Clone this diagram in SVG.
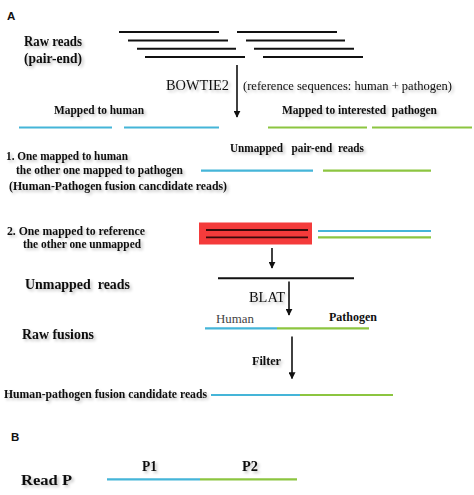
<svg xmlns="http://www.w3.org/2000/svg" width="474" height="495" viewBox="0 0 474 495">
<style>
.bg{fill:#fff}
.sans{font-family:"Liberation Sans",Arial,sans-serif;font-weight:bold;fill:#111}
.b{font-family:"Liberation Serif","Times New Roman",serif;font-weight:bold;fill:#111}
.r{font-family:"Liberation Serif","Times New Roman",serif;fill:#111}
.pre{white-space:pre}
.k{stroke:#111;stroke-width:2;fill:none}
.bl{stroke:#45b5d8;stroke-width:2.2;fill:none}
.gr{stroke:#8cc540;stroke-width:2.2;fill:none}
.ar{stroke:#111;stroke-width:1.6;fill:none}
.sh{filter:url(#shadow)}
</style>
<defs>
<marker id="ah" viewBox="0 0 10 10" refX="9" refY="5" markerWidth="7" markerHeight="7" markerUnits="userSpaceOnUse" orient="auto">
<path d="M0,0 L10,5 L0,10 z" fill="#111"/>
</marker>
<filter id="shadow" x="-10%" y="-40%" width="130%" height="200%">
<feGaussianBlur in="SourceAlpha" stdDeviation="1.6" result="b"/>
<feOffset dx="2" dy="2" result="o"/>
<feComponentTransfer in="o" result="s"><feFuncA type="linear" slope="0.25"/></feComponentTransfer>
<feMerge><feMergeNode in="s"/><feMergeNode in="SourceGraphic"/></feMerge>
</filter>
</defs>
<rect class="bg" x="0" y="0" width="474" height="495"/>

<g id="labels-panels">
<text class="sans" x="7" y="20" font-size="11.5">A</text>
<text class="sans" x="11" y="441" font-size="11.5">B</text>
</g>

<g id="node-raw-reads">
<text class="b sh" x="24" y="46" font-size="14.5" textLength="58" lengthAdjust="spacingAndGlyphs">Raw reads</text>
<text class="b sh" x="24" y="63" font-size="14.5" textLength="58" lengthAdjust="spacingAndGlyphs">(pair-end)</text>
<line class="k" x1="119" y1="32" x2="219" y2="32"/>
<line class="k" x1="237" y1="32" x2="337" y2="32"/>
<line class="k" x1="128" y1="40.5" x2="228" y2="40.5"/>
<line class="k" x1="246" y1="40.5" x2="345" y2="40.5"/>
<line class="k" x1="137" y1="48.7" x2="236" y2="48.7"/>
<line class="k" x1="254" y1="48.7" x2="354" y2="48.7"/>
<line class="k" x1="145" y1="57" x2="245" y2="57"/>
<line class="k" x1="263" y1="57" x2="363" y2="57"/>
</g>

<g id="node-mapped">
<text class="b sh" x="54" y="114" font-size="11.5" textLength="90" lengthAdjust="spacingAndGlyphs">Mapped to human</text>
<text class="b sh pre" x="282" y="114" font-size="11.5" textLength="155" lengthAdjust="spacingAndGlyphs">Mapped to interested  pathogen</text>
<line class="bl" x1="19" y1="127.5" x2="112" y2="127.5"/>
<line class="bl" x1="124" y1="127.5" x2="219" y2="127.5"/>
<line class="gr" x1="268" y1="127.5" x2="367" y2="127.5"/>
<line class="gr" x1="372" y1="127.5" x2="472" y2="127.5"/>
</g>

<g id="node-unmapped-pairs">
<text class="b sh pre" x="230" y="152" font-size="11.5" textLength="134" lengthAdjust="spacingAndGlyphs">Unmapped   pair-end  reads</text>
<text class="b sh" x="6" y="159.5" font-size="13.5" textLength="122" lengthAdjust="spacingAndGlyphs">1. One mapped to human</text>
<text class="b sh" x="16" y="173.5" font-size="13.5" textLength="167" lengthAdjust="spacingAndGlyphs">the other one mapped to pathogen</text>
<text class="b sh" x="9" y="190" font-size="13.5" textLength="218" lengthAdjust="spacingAndGlyphs">(Human-Pathogen fusion cancdidate reads)</text>
<line class="bl" x1="201" y1="170.7" x2="313" y2="170.7"/>
<line class="gr" x1="323" y1="170.7" x2="431" y2="170.7"/>
</g>

<g id="node-one-unmapped">
<text class="b sh" x="7" y="234.5" font-size="13.5" textLength="138" lengthAdjust="spacingAndGlyphs">2. One mapped to reference</text>
<text class="b sh" x="23" y="248" font-size="13.5" textLength="118" lengthAdjust="spacingAndGlyphs">the other one unmapped</text>
<rect x="199" y="222.5" width="113" height="22" fill="#f43b3b"/>
<line x1="206" y1="230" x2="308" y2="230" stroke="#3a0a0a" stroke-width="1.8"/>
<line x1="206" y1="237.3" x2="308" y2="237.3" stroke="#3a0a0a" stroke-width="1.8"/>
<line class="bl" x1="318" y1="231" x2="431" y2="231"/>
<line class="gr" x1="318" y1="237.3" x2="431" y2="237.3"/>
</g>

<g id="node-unmapped-reads">
<text class="b sh pre" x="25" y="288.5" font-size="14.5" textLength="105" lengthAdjust="spacingAndGlyphs">Unmapped  reads</text>
<line class="k" x1="218" y1="278.3" x2="354" y2="278.3"/>
</g>

<g id="node-raw-fusions">
<text class="b sh" x="22" y="338.5" font-size="14.5" textLength="72" lengthAdjust="spacingAndGlyphs">Raw fusions</text>
<text class="r" x="216" y="323.3" font-size="12" style="fill:#444" textLength="38" lengthAdjust="spacingAndGlyphs">Human</text>
<text class="b" x="329" y="321" font-size="12" textLength="48" lengthAdjust="spacingAndGlyphs">Pathogen</text>
<line class="bl" x1="205" y1="328.3" x2="277" y2="328.3"/>
<line class="gr" x1="277" y1="328.3" x2="369" y2="328.3"/>
</g>

<g id="node-candidates">
<text class="b sh" x="4" y="397.5" font-size="11.5" textLength="203" lengthAdjust="spacingAndGlyphs">Human-pathogen fusion candidate reads</text>
<line class="bl" x1="211" y1="395" x2="300" y2="395"/>
<line class="gr" x1="300" y1="395" x2="393" y2="395"/>
</g>

<g id="node-read-p">
<text class="b sh" x="142" y="471" font-size="14.5" textLength="15" lengthAdjust="spacingAndGlyphs">P1</text>
<text class="b sh" x="242" y="471" font-size="14.5" textLength="16" lengthAdjust="spacingAndGlyphs">P2</text>
<text class="b sh" x="21" y="485" font-size="15.5" textLength="51" lengthAdjust="spacingAndGlyphs">Read P</text>
<line class="bl" x1="107" y1="479.3" x2="200" y2="479.3"/>
<line class="gr" x1="200" y1="479.3" x2="297" y2="479.3"/>
</g>

<g id="connectors">
<line class="ar" x1="237" y1="65" x2="237" y2="117" marker-end="url(#ah)"/>
<text class="r sh" x="166" y="90" font-size="15" textLength="63" lengthAdjust="spacingAndGlyphs">BOWTIE2</text>
<text class="r sh" x="243" y="90" font-size="12.5" textLength="209" lengthAdjust="spacingAndGlyphs">(reference sequences: human + pathogen)</text>
<line class="ar" x1="272" y1="248" x2="272" y2="268" marker-end="url(#ah)"/>
<line class="ar" x1="289" y1="281.5" x2="289" y2="315" marker-end="url(#ah)"/>
<text class="r sh" x="249" y="301.7" font-size="15" textLength="36" lengthAdjust="spacingAndGlyphs">BLAT</text>
<line class="ar" x1="292" y1="336.5" x2="292" y2="378.5" marker-end="url(#ah)"/>
<text class="b sh" x="252" y="365" font-size="13" textLength="29" lengthAdjust="spacingAndGlyphs">Filter</text>
</g>
</svg>
